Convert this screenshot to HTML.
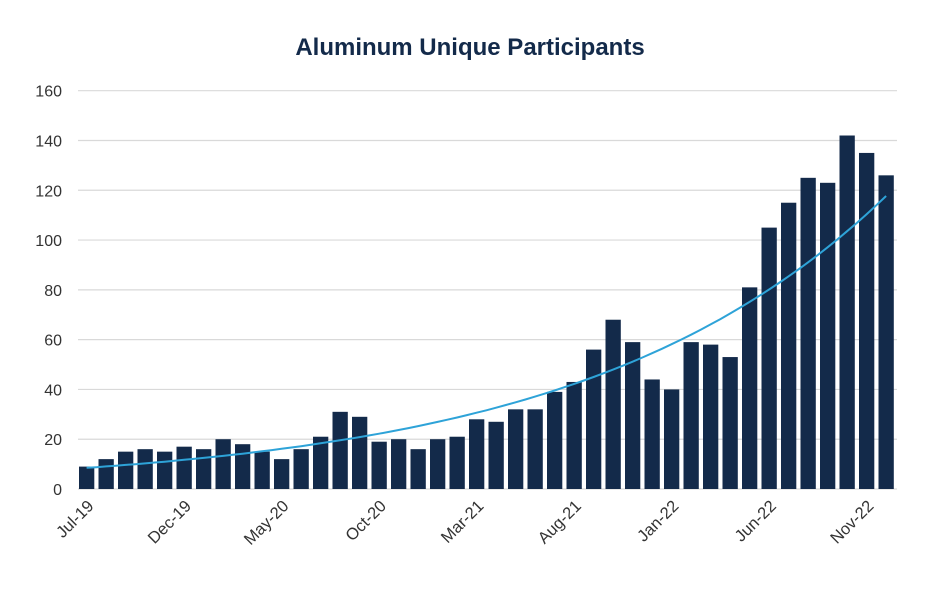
<!DOCTYPE html>
<html><head><meta charset="utf-8"><style>
body{margin:0;background:#fff;}
svg{display:block;font-family:"Liberation Sans",sans-serif;}
</style></head><body>
<svg width="940" height="600" xmlns="http://www.w3.org/2000/svg">
<text x="470" y="55" text-anchor="middle" font-size="24" font-weight="bold" fill="#132a4a">Aluminum Unique Participants</text>
<g id="g"></g>
</svg>
<script>
const vals=[9,12,15,16,15,17,16,20,18,15,12,16,21,31,29,19,20,16,20,21,28,27,32,32,39,43,56,68,59,44,40,59,58,53,81,105,115,125,123,142,135,126];
const labs={0:"Jul-19",5:"Dec-19",10:"May-20",15:"Oct-20",20:"Mar-21",25:"Aug-21",30:"Jan-22",35:"Jun-22",40:"Nov-22"};
const y0=489,k=(489-90.7)/160;
let s="";
for(let v=0;v<=160;v+=20){const y=y0-v*k;
s+=`<line x1="78" x2="897" y1="${y}" y2="${y}" stroke="#d9d9d9" stroke-width="1.2"/>`;
s+=`<text x="62" y="${y+6}" text-anchor="end" font-size="16" fill="#333">${v}</text>`;}
vals.forEach((v,i)=>{const x=79+i*19.5;s+=`<rect x="${x}" y="${y0-v*k}" width="15.3" height="${v*k}" fill="#132a4a"/>`;
if(labs[i]!==undefined){const cx=x+7.6;s+=`<text transform="translate(${cx+8},${y0+18}) rotate(-45)" text-anchor="end" font-size="16.5" fill="#333">${labs[i]}</text>`;}});
let p="";for(let i=0;i<=41;i+=0.5){const v=8.5*Math.exp(0.0641*i);p+=(i?"L":"M")+(79+i*19.5+7.6).toFixed(1)+","+(y0-v*k).toFixed(1);}
s+=`<path d="${p}" fill="none" stroke="#2ea3d8" stroke-width="2"/>`;
document.getElementById("g").innerHTML=s;
</script>
</body></html>
